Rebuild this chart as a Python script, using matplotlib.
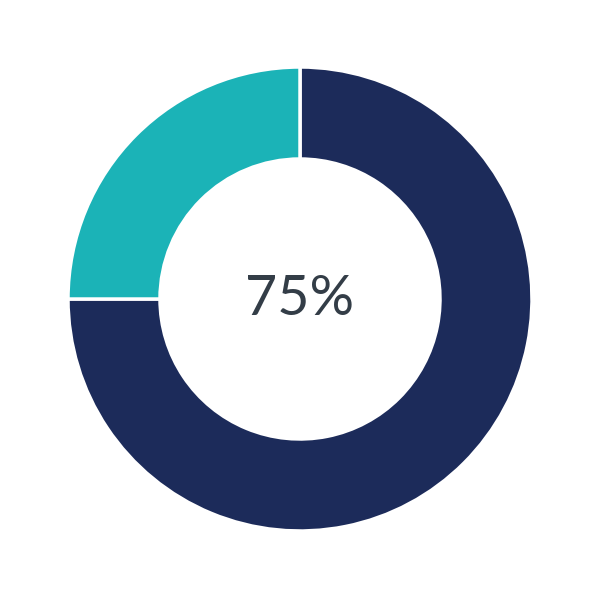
import matplotlib
matplotlib.use("Agg")
import matplotlib.pyplot as plt

labels = ["Filled", "Remaining"]
values = [75, 25]
colors = ["#1c2b5a", "#1bb3b7"]
center_label = "75%"

fig = plt.figure(figsize=(6, 6), dpi=100)
ax = fig.add_axes([0, 0, 1, 1])
R = 232.0
ax.pie(values, colors=colors, startangle=90, counterclock=False, radius=1.0,
       wedgeprops=dict(width=92 / R, edgecolor="white", linewidth=2.5))
ax.set_xlim(-300 / R, 300 / R)
ax.set_ylim(-301 / R, 299 / R)
ax.set_aspect("equal")
ax.axis("off")
ax.text(0, 0, center_label, ha="center", va="center", fontsize=40,
        family=["Lato", "DejaVu Sans"], color="#333d47")
fig.savefig("out.png", dpi=100, facecolor="white")
